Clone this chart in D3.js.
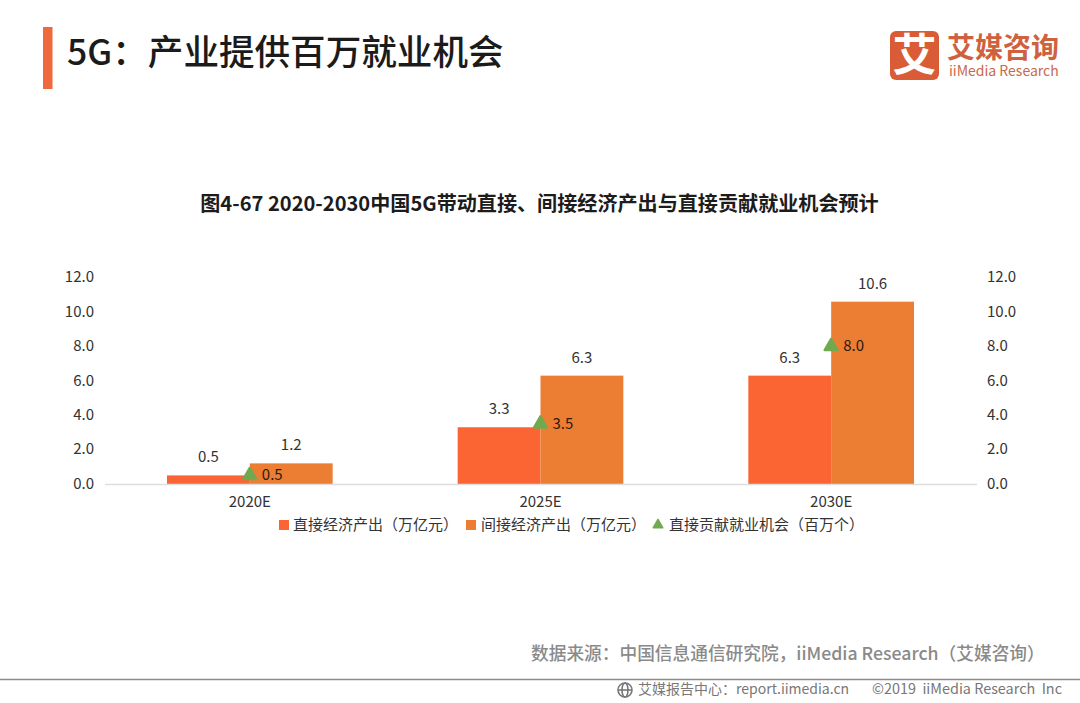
<!DOCTYPE html>
<html lang="zh">
<head>
<meta charset="utf-8">
<script src="https://cdn.jsdelivr.net/npm/d3@7/dist/d3.min.js"></script>
<style>
  html, body { margin: 0; padding: 0; background: #fff; }
  svg { display: block; }
  text { font-family: "Noto Sans CJK SC", "Noto Sans", sans-serif; white-space: pre; }
</style>
</head>
<body>
<svg id="chart" width="1080" height="703"></svg>
<script>
// Chart data
const years = ["2020E", "2025E", "2030E"];
const directOutput = [0.5, 3.3, 6.3];
const indirectOutput = [1.2, 6.3, 10.6];
const directJobs = [0.5, 3.5, 8.0];
const axisTicks = [0, 2, 4, 6, 8, 10, 12];
const seriesNames = ["直接经济产出（万亿元）", "间接经济产出（万亿元）", "直接贡献就业机会（百万个）"];

const RED = "#fb6533", ORANGE = "#ec7e33", GREEN = "#71a94f", INK = "#333";
const svg = d3.select("#chart");

// Page header
svg.append("rect").attr("x", 43).attr("y", 27).attr("width", 9.5).attr("height", 62).attr("fill", "#f0693c");
svg.append("text").attr("x", 67).attr("y", 65).attr("font-size", 35.6).attr("font-weight", 500).attr("fill", "#1b1b1b")
  .text("5G：产业提供百万就业机会");

// Brand mark
const brand = svg.append("g");
brand.append("rect").attr("x", 890).attr("y", 31).attr("width", 49).attr("height", 49).attr("rx", 6).attr("fill", "#d95c37");
brand.append("text").attr("x", 914.5).attr("y", 71).attr("text-anchor", "middle").attr("font-size", 44)
  .attr("font-weight", 700).attr("fill", "#fff").text("艾");
brand.append("text").attr("x", 947).attr("y", 58).attr("font-size", 28).attr("font-weight", 700)
  .attr("fill", "#d0613f").text("艾媒咨询");
brand.append("text").attr("x", 949).attr("y", 76).attr("font-size", 14).attr("fill", "#c9694c")
  .text("iiMedia Research");

// Chart heading
svg.append("text").attr("x", 539.5).attr("y", 211).attr("text-anchor", "middle")
  .attr("font-size", 20.1).attr("font-weight", 700).attr("fill", "#1c1c1c")
  .text("图4-67 2020-2030中国5G带动直接、间接经济产出与直接贡献就业机会预计");

// Scales
const x = d3.scaleBand().domain(years).range([104.5, 976.5]).paddingInner(0.43).paddingOuter(0.215);
const inner = d3.scaleBand().domain(["direct", "indirect"]).range([0, x.bandwidth()]);
const y = d3.scaleLinear().domain([0, 12]).range([484, 277.6]);
const fmt = d3.format(".1f");

// Left and right value axes
function styleAxis(g) {
  g.select(".domain").remove();
  g.selectAll(".tick line").remove();
  g.selectAll("text").attr("font-size", 15).attr("fill", INK);
}
svg.append("g").attr("transform", "translate(94,-0.5)")
  .call(d3.axisLeft(y).tickValues(axisTicks).tickFormat(fmt).tickSize(0).tickPadding(0)).call(styleAxis);
svg.append("g").attr("transform", "translate(987,-0.5)")
  .call(d3.axisRight(y).tickValues(axisTicks).tickFormat(fmt).tickSize(0).tickPadding(0)).call(styleAxis);

// Paired bars for each year
const groups = svg.append("g").selectAll("g").data(years).join("g")
  .attr("transform", d => `translate(${x(d)},0)`);
groups.append("rect").attr("x", inner("direct")).attr("width", inner.bandwidth())
  .attr("y", (d, i) => y(directOutput[i])).attr("height", (d, i) => y(0) - y(directOutput[i])).attr("fill", RED);
groups.append("rect").attr("x", inner("indirect")).attr("width", inner.bandwidth())
  .attr("y", (d, i) => y(indirectOutput[i])).attr("height", (d, i) => y(0) - y(indirectOutput[i])).attr("fill", ORANGE);

// Baseline and category axis
const xAxis = svg.append("g").attr("transform", `translate(0,${y(0)})`)
  .call(d3.axisBottom(x).tickSize(0).tickPadding(12));
xAxis.select(".domain").attr("stroke", "#dedede").attr("stroke-width", 1.4);
xAxis.selectAll("text").attr("font-size", 15).attr("fill", INK);

// Bar value labels
groups.append("text").attr("x", inner("direct") + inner.bandwidth() / 2)
  .attr("y", (d, i) => y(directOutput[i]) - 13).attr("text-anchor", "middle")
  .attr("font-size", 15).attr("fill", INK).text((d, i) => fmt(directOutput[i]));
groups.append("text").attr("x", inner("indirect") + inner.bandwidth() / 2)
  .attr("y", (d, i) => y(indirectOutput[i]) - 13).attr("text-anchor", "middle")
  .attr("font-size", 15).attr("fill", INK).text((d, i) => fmt(indirectOutput[i]));

// Job markers with their labels
const triangle = d3.symbol().type(d3.symbolTriangle).size(72);
const markers = groups.append("g")
  .attr("transform", (d, i) => `translate(${x.bandwidth() / 2},${y(directJobs[i])})`);
markers.append("path").attr("d", triangle).attr("fill", GREEN).attr("stroke", GREEN)
  .attr("stroke-width", 2.5).attr("stroke-linejoin", "round");
markers.append("text").attr("x", 12).attr("y", 5).attr("font-size", 15).attr("fill", "#2c1a10")
  .text((d, i) => fmt(directJobs[i]));

// Legend
const legendItems = [
  { x: 279, tx: 293, name: seriesNames[0], kind: "rect", color: RED },
  { x: 466, tx: 481, name: seriesNames[1], kind: "rect", color: ORANGE },
  { x: 653, tx: 669, name: seriesNames[2], kind: "tri", color: GREEN }
];
const legend = svg.append("g").selectAll("g").data(legendItems).join("g");
legend.filter(d => d.kind === "rect").append("rect")
  .attr("x", d => d.x).attr("y", 520).attr("width", 10).attr("height", 10).attr("fill", d => d.color);
legend.filter(d => d.kind === "tri").append("path")
  .attr("d", d3.symbol().type(d3.symbolTriangle).size(40))
  .attr("transform", d => `translate(${d.x + 5},525)`).attr("fill", d => d.color)
  .attr("stroke", d => d.color).attr("stroke-width", 1.5).attr("stroke-linejoin", "round");
legend.append("text").attr("x", d => d.tx).attr("y", 530).attr("font-size", 15).attr("fill", INK)
  .text(d => d.name);

// Source note and footer
svg.append("text").attr("x", 531).attr("y", 660)
  .attr("font-size", 17.7).attr("font-weight", 500).attr("fill", "#8a8a8a")
  .text("数据来源：中国信息通信研究院，iiMedia Research（艾媒咨询）");
svg.append("line").attr("x1", 0).attr("x2", 1080).attr("y1", 679.5).attr("y2", 679.5)
  .attr("stroke", "#8c8c8c").attr("stroke-width", 1.5);
const globe = svg.append("g").attr("transform", "translate(625,690)").attr("fill", "none")
  .attr("stroke", "#777").attr("stroke-width", 1.6);
globe.append("circle").attr("r", 7);
globe.append("ellipse").attr("rx", 3).attr("ry", 7);
globe.append("line").attr("x1", -7).attr("x2", 7);
svg.append("text").attr("x", 638).attr("y", 694).attr("font-size", 14).attr("fill", "#777")
  .text("艾媒报告中心：report.iimedia.cn");
svg.append("text").attr("x", 1062).attr("y", 694).attr("text-anchor", "end").attr("font-size", 14.4).attr("fill", "#777")
  .text("©2019  iiMedia Research  Inc");
</script>
</body>
</html>
